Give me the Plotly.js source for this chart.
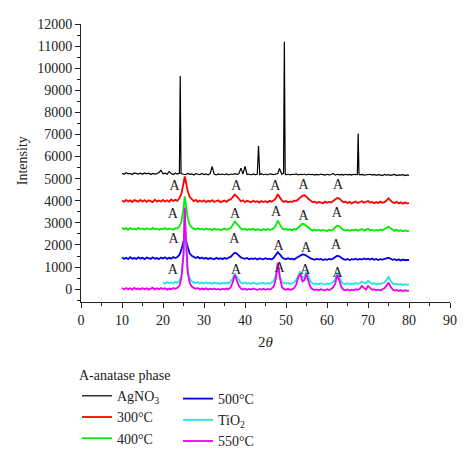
<!DOCTYPE html>
<html>
<head>
<meta charset="utf-8">
<script src="https://cdn.plot.ly/plotly-3.0.1.min.js"></script>
<style>html,body{margin:0;padding:0;background:#fff;}#chart{width:474px;height:462px;}</style>
</head>
<body>
<div id="chart"></div>
<script>
// Shared 2θ grid for the anatase series
const twoTheta = [
  10,10.5,11,11.5,12,12.5,13,13.5,14,14.5,
  15,15.5,16,16.5,17,17.5,18,18.5,19,19.5,
  20,20.5,21,21.5,22,22.5,23,23.5,24,24.5,
  25,25.3,25.5,26,26.5,27,27.5,28,28.5,29,29.5,
  30,30.5,31,31.5,32,32.5,33,33.5,34,34.5,
  35,35.5,36,36.5,37,37.5,38,38.5,39,39.5,
  40,40.5,41,41.5,42,42.5,43,43.5,44,44.5,
  45,45.5,46,46.5,47,47.5,48,48.5,49,49.5,
  50,50.5,51,51.5,52,52.5,53,53.5,54,54.5,
  55,55.5,56,56.5,57,57.5,58,58.5,59,59.5,
  60,60.5,61,61.5,62,62.5,63,63.5,64,64.5,
  65,65.5,66,66.5,67,67.5,68,68.5,69,69.5,
  70,70.5,71,71.5,72,72.5,73,73.5,74,74.5,
  75,75.5,76,76.5,77,77.5,78,78.5,79,79.5,
  80
];

// AgNO3 has its own 2θ points (sharp reflections)
const twoThetaAgNO3 = [
  10,10.5,11,11.5,12,12.5,13,13.5,14,14.5,
  15,15.5,16,16.5,17,17.5,18,18.5,19,19.5,
  20,20.5,21,21.5,22,22.5,23,23.5,24,24.2,24.4,
  25,25.5,26,26.5,27,27.5,28,28.5,29,29.5,
  30,30.5,31,31.5,32,32.5,33,33.5,34,34.5,
  35,35.5,36,36.5,37,37.5,38,38.5,39,39.5,
  40,40.5,41,41.5,42,42.5,43,43.3,43.6,44,44.5,
  45,45.5,46,46.5,47,47.5,48,48.4,49,49.4,49.6,49.8,
  50,50.5,51,51.5,52,52.5,53,53.5,54,54.5,
  55,55.5,56,56.5,57,57.5,58,58.5,59,59.5,
  60,60.5,61,61.5,62,62.5,63,63.5,64,64.5,
  65,65.5,66,66.5,67,67.4,67.6,67.8,68,68.5,69,69.5,
  70,70.5,71,71.5,72,72.5,73,73.5,74,74.5,
  75,75.5,76,76.5,77,77.5,78,78.5,79,79.5,80
];

const agno3 = [
  5250,5200,5270,5220,5240,5190,5260,5230,5210,5250,
  5200,5260,5220,5250,5190,5240,5210,5230,5270,5380,
  5220,5250,5200,5330,5230,5190,5250,5210,5240,9650,5230,
  5200,5180,5240,5200,5220,5170,5230,5200,5180,5240,
  5190,5220,5180,5230,5550,5200,5170,5220,5190,5210,
  5180,5220,5170,5210,5190,5230,5200,5220,5480,5210,
  5560,5190,5210,5170,5220,5180,5200,6480,5190,5230,5180,
  5210,5170,5220,5190,5180,5210,5230,5460,5200,5250,11200,5220,
  5180,5210,5170,5200,5190,5220,5170,5200,5180,5210,
  5170,5210,5180,5200,5160,5190,5170,5210,5180,5160,
  5200,5170,5190,5240,5160,5200,5170,5190,5160,5200,
  5170,5190,5160,5200,5180,5190,7050,5200,5170,5190,5160,5180,
  5170,5200,5160,5190,5150,5180,5170,5140,5190,5160,
  5180,5150,5170,5190,5140,5170,5160,5180,5140,5170,5150
];

const c300 = [
  4010,3950,4040,3970,4020,3940,4030,3980,3960,4040,
  3960,4030,3950,4020,3990,3940,4050,3970,4010,3960,
  4040,3960,4020,3950,4060,3990,4050,4000,4120,4330,
  4780,5100,4950,4450,4180,4060,3990,4040,3950,4010,3960,
  4020,3940,4000,3960,4030,3950,3990,4020,3940,3980,
  4010,3950,4030,4060,4160,4280,4200,4080,3980,4020,
  3940,4000,3960,3930,4010,3950,3980,3920,3990,3940,
  3980,3930,4000,3960,4020,4110,4300,4170,4010,3950,
  3990,3930,3970,3940,4010,3990,4080,4160,4230,4250,
  4190,4080,3990,3940,3960,3900,3950,3920,3890,3960,
  3910,3950,3920,3990,4060,4130,4100,4000,3930,3960,
  3900,3950,3880,3930,3970,3900,3940,3980,3910,3950,
  3990,3920,3950,3890,3940,3900,3960,3910,3940,4010,
  4110,4020,3930,3900,3950,3880,3930,3870,3920,3880,
  3890
];

const c400 = [
  2780,2710,2760,2690,2770,2720,2740,2700,2780,2720,
  2750,2690,2760,2730,2700,2770,2710,2750,2690,2740,
  2720,2770,2700,2750,2720,2690,2760,2740,2850,3050,
  3650,4200,3950,3250,2920,2800,2740,2700,2760,2710,2740,
  2690,2750,2710,2730,2680,2740,2700,2720,2680,2710,
  2750,2690,2740,2770,2900,3060,2960,2820,2740,2700,
  2730,2680,2720,2690,2740,2670,2710,2690,2660,2720,
  2680,2720,2690,2710,2760,2880,3100,2930,2760,2700,
  2730,2680,2710,2670,2720,2700,2790,2900,2960,2930,
  2870,2780,2700,2660,2700,2650,2690,2640,2680,2660,
  2630,2690,2650,2700,2790,2880,2850,2740,2680,2650,
  2690,2640,2680,2660,2700,2640,2690,2720,2650,2700,
  2730,2660,2690,2640,2680,2650,2700,2670,2720,2790,
  2830,2760,2680,2640,2690,2630,2670,2620,2660,2630,
  2640
];

const c500 = [
  1440,1370,1420,1360,1450,1380,1410,1370,1440,1390,
  1420,1360,1430,1390,1370,1440,1380,1410,1360,1430,
  1390,1440,1370,1420,1380,1450,1410,1460,1550,1800,
  2150,2370,2250,1870,1620,1510,1450,1410,1460,1390,1430,
  1380,1420,1360,1410,1390,1350,1420,1370,1400,1360,
  1410,1370,1430,1460,1560,1650,1610,1520,1440,1400,
  1370,1410,1350,1390,1360,1400,1340,1390,1370,1350,
  1400,1360,1380,1340,1420,1530,1680,1580,1450,1380,
  1350,1400,1360,1380,1340,1410,1470,1540,1570,1560,
  1520,1460,1390,1360,1330,1380,1340,1370,1320,1360,
  1330,1370,1340,1390,1450,1510,1490,1420,1360,1330,
  1370,1320,1360,1340,1380,1330,1370,1340,1390,1350,
  1380,1340,1390,1330,1370,1320,1360,1340,1350,1390,
  1420,1380,1330,1360,1310,1350,1300,1340,1310,1330,
  1320
];

// TiO2 is recorded from 2θ = 20 onward
const tio2 = [
  300,250,320,270,310,260,330,290,380,620,
  1500,3600,2600,900,480,360,310,270,320,260,300,
  250,310,260,290,240,300,260,280,240,290,
  250,300,260,340,480,700,560,380,290,260,
  300,250,280,240,300,260,230,280,250,290,
  240,280,250,300,380,620,1150,600,330,270,
  250,290,230,270,310,420,650,800,520,560,
  800,520,330,270,230,260,220,270,240,210,
  260,230,270,320,450,750,560,330,250,230,
  270,220,250,230,280,240,270,340,300,260,
  380,300,240,270,220,260,230,270,300,420,
  550,380,260,220,250,200,240,190,230,200,
  210
];

const c550 = [
  60,-10,50,0,40,-20,60,10,30,-10,
  50,0,40,-20,30,60,-10,40,0,50,
  10,40,-20,30,0,50,20,60,150,500,
  1600,3700,2700,800,280,120,60,20,50,-10,30,
  0,40,-20,20,-10,30,-20,10,-30,20,
  -10,30,0,80,300,650,420,150,30,-20,
  20,-30,10,-20,30,-10,-40,10,-20,20,
  -30,10,-20,30,120,450,1200,520,100,0,
  -30,20,-40,0,50,200,550,700,350,420,
  700,350,80,0,-40,-10,-50,0,-30,-60,
  0,-40,10,80,250,650,400,100,-20,-50,
  -10,-60,-20,-50,0,-30,20,150,60,-20,
  150,60,-30,0,-50,-20,-60,-10,40,150,
  300,120,-20,-60,-30,-80,-40,-90,-50,-80,
  -70
];

// "A" (anatase) peak markers
const anataseX = [22.8,37.9,47.4,54.3,62.7, 22.4,37.6,47.6,54.3,62.4, 22.6,37.4,48.2,54.9,62.2, 22.4,37.8,48.4,54.7,62.6];
const anataseY = [4640,4640,4640,4680,4680, 3360,3360,3450,3310,3420, 2230,2230,1930,1860,1960, 830,830,950,830,720];
const anataseText = anataseX.map(() => 'A');

const seriesNames = ['AgNO<sub>3</sub>','300°C','400°C','500°C','TiO<sub>2</sub>','550°C'];
const seriesColors = ['#000000','#ff0000','#00ee00','#0000ee','#22e6e6','#ee00ee'];
const seriesWidths = [1.2, 1.8, 1.8, 1.8, 1.8, 1.8];

const xTitle = '2<i>θ</i>';
const yTitle = 'Intensity';

const FONT = 'Liberation Serif, Times New Roman, serif';

const tiO2X = twoTheta.slice(twoTheta.indexOf(20));

const xs = [twoThetaAgNO3, twoTheta, twoTheta, twoTheta, tiO2X, twoTheta];
const ys = [agno3, c300, c400, c500, tio2, c550];
const legendIds = ['legend','legend','legend','legend2','legend2','legend2'];

const traces = ys.map((y, i) => ({
  type: 'scatter', mode: 'lines', x: xs[i], y: y,
  name: seriesNames[i], line: {color: seriesColors[i], width: seriesWidths[i]},
  legend: legendIds[i]
}));
traces.push({
  type: 'scatter', mode: 'text', x: anataseX, y: anataseY, text: anataseText,
  textposition: 'middle center', textfont: {family: FONT, size: 14, color: '#222'},
  showlegend: false, hoverinfo: 'skip'
});

const layout = {
  width: 474, height: 462,
  margin: {l: 81, r: 24, t: 24, b: 160, autoexpand: false},
  paper_bgcolor: '#fff', plot_bgcolor: '#fff',
  font: {family: FONT, size: 14, color: '#222'},
  showlegend: true,
  xaxis: {
    range: [0, 90], tick0: 0, dtick: 10, ticks: 'outside', ticklen: 5, tickwidth: 1,
    tickcolor: '#222', showline: true, linecolor: '#222', linewidth: 1,
    showgrid: false, zeroline: false, automargin: false,
    minor: {dtick: 5, ticks: 'outside', ticklen: 3, tickcolor: '#222', showgrid: false}
  },
  yaxis: {
    range: [-580, 12000], tick0: 0, dtick: 1000, tickformat: 'd', ticks: 'outside', ticklen: 5, tickwidth: 1,
    tickcolor: '#222', showline: true, linecolor: '#222', linewidth: 1,
    showgrid: false, zeroline: false, automargin: false,
    minor: {dtick: 500, ticks: 'outside', ticklen: 3, tickcolor: '#222', showgrid: false}
  },
  annotations: [
    {text: yTitle, xref: 'paper', yref: 'paper', x: -0.16, y: 0.51, textangle: -90,
     xanchor: 'center', yanchor: 'middle', showarrow: false, font: {family: FONT, size: 14, color: '#222'}},
    {text: xTitle, xref: 'paper', yref: 'paper', x: 0.5, y: -0.144,
     xanchor: 'center', yanchor: 'middle', showarrow: false, font: {family: FONT, size: 15, color: '#222'}}
  ],
  legend: {
    xref: 'container', yref: 'container', x: 77/474, y: 1 - 362/462,
    xanchor: 'left', yanchor: 'top', bgcolor: 'rgba(0,0,0,0)',
    font: {family: FONT, size: 14, color: '#222'},
    title: {text: 'A-anatase phase', font: {family: FONT, size: 14, color: '#222'}},
    tracegroupgap: 0
  },
  legend2: {
    xref: 'container', yref: 'container', x: 178/474, y: 1 - 383/462,
    xanchor: 'left', yanchor: 'top', bgcolor: 'rgba(0,0,0,0)',
    font: {family: FONT, size: 14, color: '#222'},
    tracegroupgap: 0
  }
};

Plotly.newPlot('chart', traces, layout, {staticPlot: true, displayModeBar: false});
</script>
</body>
</html>
